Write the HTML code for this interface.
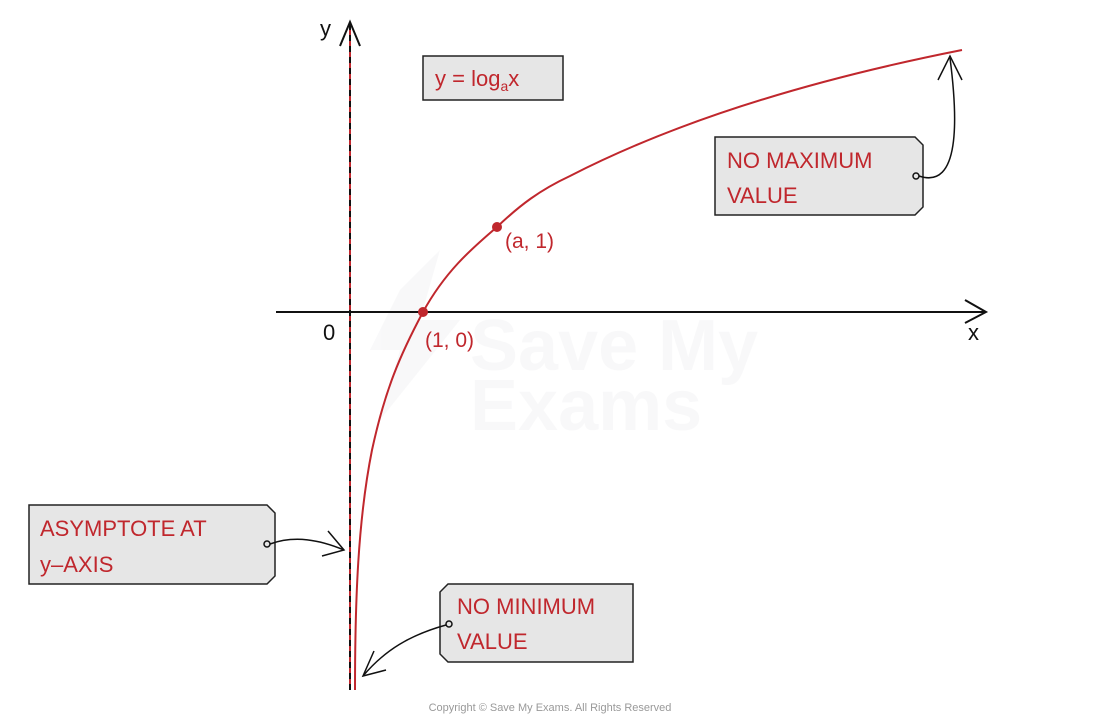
<!DOCTYPE html>
<html><head><style>body{margin:0;background:#fff}svg{display:block}</style></head><body>
<svg width="1100" height="726" viewBox="0 0 1100 726" xmlns="http://www.w3.org/2000/svg" font-family="Liberation Sans, sans-serif">
<g opacity="0.035" fill="#556">
<polygon points="400,290 440,250 420,320 460,320 380,420 400,350 370,350"/>
<text x="470" y="370" font-size="72" font-weight="bold">Save My</text>
<text x="470" y="430" font-size="72" font-weight="bold">Exams</text>
</g>
<line x1="350" y1="24" x2="350" y2="690" stroke="#c0272d" stroke-width="2"/>
<line x1="350" y1="24" x2="350" y2="690" stroke="#111" stroke-width="2" stroke-dasharray="6,5"/>
<polyline points="340,46 350,22 360,46" fill="none" stroke="#111" stroke-width="2"/>
<line x1="276" y1="312" x2="985" y2="312" stroke="#111" stroke-width="2"/>
<polyline points="965,300 986,312 965,323" fill="none" stroke="#111" stroke-width="2"/>
<text x="320" y="36" font-size="22" fill="#111">y</text>
<text x="968" y="340" font-size="22" fill="#111">x</text>
<text x="323" y="340" font-size="22" fill="#111">0</text>
<path d="M355,690 C355,600 358,520 372,450 C385,390 400,355 423,312 C445,272 470,250 497,227 C520,205 540,190 570,176 C640,140 760,90 962,50" fill="none" stroke="#c0272d" stroke-width="2"/>
<circle cx="423" cy="312" r="5" fill="#c0272d"/>
<circle cx="497" cy="227" r="5" fill="#c0272d"/>
<text x="425" y="347" font-size="21" fill="#c0272d">(1, 0)</text>
<text x="505" y="248" font-size="21" fill="#c0272d">(a, 1)</text>
<rect x="423" y="56" width="140" height="44" fill="#e6e6e6" stroke="#222" stroke-width="1.5"/>
<text x="435" y="86" font-size="22" fill="#c0272d">y = log<tspan font-size="14" dy="5">a</tspan><tspan dy="-5">x</tspan></text>
<polygon points="715,137 915,137 923,145 923,207 915,215 715,215" fill="#e6e6e6" stroke="#222" stroke-width="1.5"/>
<text x="727" y="168" font-size="22" fill="#c0272d">NO MAXIMUM</text>
<text x="727" y="203" font-size="22" fill="#c0272d">VALUE</text>
<circle cx="916" cy="176" r="3" fill="none" stroke="#111" stroke-width="1.5"/>
<path d="M919,176 C960,190 958,120 950,58" fill="none" stroke="#111" stroke-width="1.5"/>
<polyline points="938,80 950,56 962,80" fill="none" stroke="#111" stroke-width="1.5"/>
<polygon points="29,505 267,505 275,513 275,576 267,584 29,584" fill="#e6e6e6" stroke="#222" stroke-width="1.5"/>
<text x="40" y="536" font-size="22" fill="#c0272d">ASYMPTOTE AT</text>
<text x="40" y="572" font-size="22" fill="#c0272d">y–AXIS</text>
<circle cx="267" cy="544" r="3" fill="none" stroke="#111" stroke-width="1.5"/>
<path d="M270,544 C295,535 320,540 344,550" fill="none" stroke="#111" stroke-width="1.5"/>
<polyline points="328,531 344,550 322,556" fill="none" stroke="#111" stroke-width="1.5"/>
<polygon points="448,584 633,584 633,662 448,662 440,654 440,592" fill="#e6e6e6" stroke="#222" stroke-width="1.5"/>
<text x="457" y="614" font-size="22" fill="#c0272d">NO MINIMUM</text>
<text x="457" y="649" font-size="22" fill="#c0272d">VALUE</text>
<circle cx="449" cy="624" r="3" fill="none" stroke="#111" stroke-width="1.5"/>
<path d="M446,625 C410,635 385,650 363,676" fill="none" stroke="#111" stroke-width="1.5"/>
<polyline points="374,651 363,676 386,670" fill="none" stroke="#111" stroke-width="1.5"/>
<text x="550" y="711" font-size="11" fill="#999" text-anchor="middle">Copyright © Save My Exams. All Rights Reserved</text>
</svg>
</body></html>
